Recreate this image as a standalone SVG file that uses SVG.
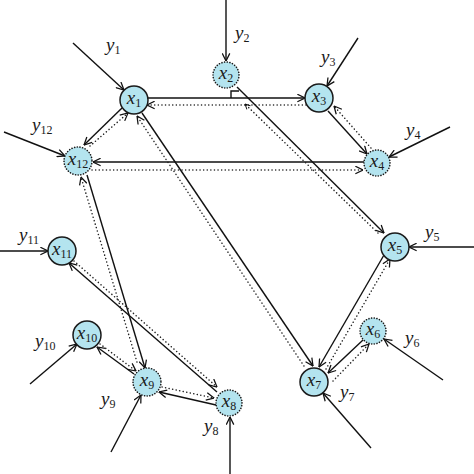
<svg xmlns="http://www.w3.org/2000/svg" width="474" height="474" viewBox="0 0 474 474">
<style>
.bg{fill:#ffffff}
.n{fill:#b4e4ef;stroke:#1a1a1a;stroke-width:1.5}
.nd{fill:#b4e4ef;stroke:#1a1a1a;stroke-width:1.6;stroke-dasharray:0.1 2.6;stroke-linecap:round}
.s{fill:none;stroke:#111;stroke-width:1.4}
.d{fill:none;stroke:#222;stroke-width:1.5;stroke-dasharray:0.1 3.5;stroke-linecap:round}
.t{font-family:"Liberation Serif","DejaVu Serif",serif;font-style:italic;font-size:19px;fill:#1a1a1a}
.sub{font-style:normal;font-size:12px}
</style>
<defs>
<marker id="a" viewBox="0 0 10 10" refX="9.5" refY="5" markerWidth="9" markerHeight="9" markerUnits="userSpaceOnUse" orient="auto">
<path d="M1,0.8 L9.5,5 L1,9.2" fill="none" stroke="#111" stroke-width="1.4" stroke-dasharray="none"/>
</marker>
<marker id="b" viewBox="0 0 10 10" refX="9.5" refY="5" markerWidth="6" markerHeight="6" markerUnits="userSpaceOnUse" orient="auto">
<path d="M1,0.8 L9.5,5 L1,9.2" fill="none" stroke="#111" stroke-width="1.6" stroke-dasharray="none"/>
</marker>
</defs>
<rect class="bg" x="0" y="0" width="474" height="474"/>
<g id="connectors">
<g id="inputs">
<path class="s" d="M73,43 L124,90" marker-end="url(#a)"/>
<path class="s" d="M226,0 L226,61" marker-end="url(#a)"/>
<path class="s" d="M358,38 L327,86" marker-end="url(#a)"/>
<path class="s" d="M450,127 L389,157" marker-end="url(#a)"/>
<path class="s" d="M474,247 L409,247" marker-end="url(#a)"/>
<path class="s" d="M443,380 L384,339" marker-end="url(#a)"/>
<path class="s" d="M371,448 L323,393" marker-end="url(#a)"/>
<path class="s" d="M230,474 L230,417" marker-end="url(#a)"/>
<path class="s" d="M111,452 L141,395" marker-end="url(#a)"/>
<path class="s" d="M30,384 L77,344" marker-end="url(#a)"/>
<path class="s" d="M0,251 L48,251" marker-end="url(#a)"/>
<path class="s" d="M4,132 L65,156" marker-end="url(#a)"/>
</g>
<g id="solid-edges">
<path class="s" d="M148,98 L305,98" marker-end="url(#a)"/>
<path class="s" d="M231,98 L231,91 L239,91"/>
<path class="s" d="M364,162 L93,162" marker-end="url(#a)"/>
<path class="s" d="M122,108 L84,145" marker-end="url(#a)"/>
<path class="s" d="M328,111 L367,154" marker-end="url(#a)"/>
<path class="s" d="M237,87 L384,233" marker-end="url(#a)"/>
<path class="s" d="M142,113 L313,366" marker-end="url(#a)"/>
<path class="s" d="M384,255 L319,367" marker-end="url(#a)"/>
<path class="s" d="M363,340 L328,373" marker-end="url(#a)"/>
<path class="s" d="M87,175 L145,368" marker-end="url(#a)"/>
<path class="s" d="M217,392 L69,263" marker-end="url(#a)"/>
<path class="s" d="M216,405 L159,392" marker-end="url(#a)"/>
<path class="s" d="M134,374 L97,347" marker-end="url(#a)"/>
</g>
<g id="dotted-edges">
<path class="d" d="M306,105 L147,105" marker-end="url(#a)"/>
<path class="d" d="M92,170 L363,170" marker-end="url(#a)"/>
<path class="d" d="M90,146 L128,113" marker-end="url(#a)"/>
<path class="d" d="M371,148 L334,106" marker-end="url(#a)"/>
<path class="d" d="M378,233 L245,104" marker-end="url(#b)"/>
<path class="d" d="M304,366 L137,116" marker-end="url(#a)"/>
<path class="d" d="M326,369 L390,259" marker-end="url(#a)"/>
<path class="d" d="M333,381 L369,344" marker-end="url(#a)"/>
<path class="d" d="M137,362 L81,177" marker-end="url(#a)"/>
<path class="d" d="M74,261 L217,387" marker-end="url(#a)"/>
<path class="d" d="M162,387 L214,398" marker-end="url(#a)"/>
<path class="d" d="M100,344 L136,371" marker-end="url(#a)"/>
</g>
</g>
<g id="x1"><circle class="n" cx="134" cy="100" r="14"/><text class="t" x="134" y="104" text-anchor="middle">x<tspan class="sub" dy="3">1</tspan></text></g>
<g id="x2"><circle class="nd" cx="226" cy="75" r="13"/><text class="t" x="226" y="79" text-anchor="middle">x<tspan class="sub" dy="3">2</tspan></text></g>
<g id="x3"><circle class="n" cx="319" cy="98" r="14"/><text class="t" x="319" y="102" text-anchor="middle">x<tspan class="sub" dy="3">3</tspan></text></g>
<g id="x4"><circle class="nd" cx="377" cy="163" r="13"/><text class="t" x="377" y="167" text-anchor="middle">x<tspan class="sub" dy="3">4</tspan></text></g>
<g id="x5"><circle class="n" cx="395" cy="247" r="14"/><text class="t" x="395" y="251" text-anchor="middle">x<tspan class="sub" dy="3">5</tspan></text></g>
<g id="x6"><circle class="nd" cx="373" cy="331" r="13"/><text class="t" x="373" y="335" text-anchor="middle">x<tspan class="sub" dy="3">6</tspan></text></g>
<g id="x7"><circle class="n" cx="314" cy="382" r="14"/><text class="t" x="314" y="386" text-anchor="middle">x<tspan class="sub" dy="3">7</tspan></text></g>
<g id="x8"><circle class="nd" cx="229" cy="403" r="13"/><text class="t" x="229" y="407" text-anchor="middle">x<tspan class="sub" dy="3">8</tspan></text></g>
<g id="x9"><circle class="nd" cx="147" cy="382" r="14"/><text class="t" x="147" y="386" text-anchor="middle">x<tspan class="sub" dy="3">9</tspan></text></g>
<g id="x10"><circle class="n" cx="87" cy="335" r="14"/><text class="t" x="87" y="339" text-anchor="middle">x<tspan class="sub" dy="3">10</tspan></text></g>
<g id="x11"><circle class="n" cx="62" cy="251" r="14"/><text class="t" x="62" y="255" text-anchor="middle">x<tspan class="sub" dy="3">11</tspan></text></g>
<g id="x12"><circle class="nd" cx="78" cy="161" r="14"/><text class="t" x="78" y="165" text-anchor="middle">x<tspan class="sub" dy="3">12</tspan></text></g>
<g id="labels">
<text class="t" x="106" y="51">y<tspan class="sub" dy="3">1</tspan></text>
<text class="t" x="235" y="39">y<tspan class="sub" dy="3">2</tspan></text>
<text class="t" x="321" y="63">y<tspan class="sub" dy="3">3</tspan></text>
<text class="t" x="406" y="136">y<tspan class="sub" dy="3">4</tspan></text>
<text class="t" x="425" y="238">y<tspan class="sub" dy="3">5</tspan></text>
<text class="t" x="405" y="344">y<tspan class="sub" dy="3">6</tspan></text>
<text class="t" x="340" y="398">y<tspan class="sub" dy="3">7</tspan></text>
<text class="t" x="204" y="432">y<tspan class="sub" dy="3">8</tspan></text>
<text class="t" x="101" y="405">y<tspan class="sub" dy="3">9</tspan></text>
<text class="t" x="35" y="347">y<tspan class="sub" dy="3">10</tspan></text>
<text class="t" x="19" y="241">y<tspan class="sub" dy="3">11</tspan></text>
<text class="t" x="32" y="131">y<tspan class="sub" dy="3">12</tspan></text>
</g>
</svg>
